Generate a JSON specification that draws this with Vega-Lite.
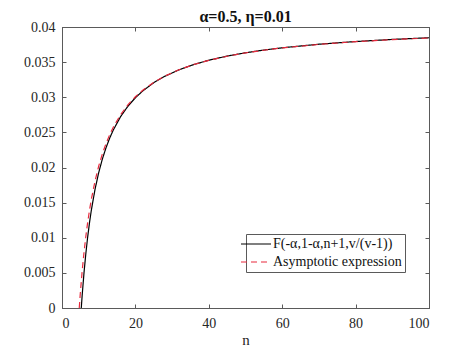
{
  "$schema": "https://vega.github.io/schema/vega-lite/v6.json",
  "autosize": {"type": "none"},
  "width": 367,
  "height": 281,
  "padding": {"left": 62, "top": 27, "right": 45, "bottom": 46},
  "background": "white",
  "config": {
    "font": "Liberation Serif",
    "view": {"stroke": "#5a5a5a", "strokeWidth": 1},
    "axis": {"grid": false, "domainColor": "#5a5a5a", "tickColor": "#5a5a5a", "labelColor": "#262626", "titleColor": "#262626", "labelFont": "Liberation Serif", "titleFont": "Liberation Serif", "labelFontSize": 14, "titleFontSize": 15, "titleFontWeight": "normal", "tickSize": -4}
  },
  "title": {"text": "α=0.5, η=0.01", "font": "Liberation Serif", "fontSize": 16, "fontWeight": "bold", "color": "#111", "anchor": "middle", "offset": -5},
  "data": {"values": [
    {"n": 5.25, "y": 0, "s": "F(-α,1-α,n+1,v/(v-1))"},
    {"n": 5.5, "y": 0.00182, "s": "F(-α,1-α,n+1,v/(v-1))"},
    {"n": 6, "y": 0.00505, "s": "F(-α,1-α,n+1,v/(v-1))"},
    {"n": 6.5, "y": 0.00778, "s": "F(-α,1-α,n+1,v/(v-1))"},
    {"n": 7, "y": 0.01013, "s": "F(-α,1-α,n+1,v/(v-1))"},
    {"n": 7.5, "y": 0.01216, "s": "F(-α,1-α,n+1,v/(v-1))"},
    {"n": 8, "y": 0.01394, "s": "F(-α,1-α,n+1,v/(v-1))"},
    {"n": 9, "y": 0.0169, "s": "F(-α,1-α,n+1,v/(v-1))"},
    {"n": 10, "y": 0.01927, "s": "F(-α,1-α,n+1,v/(v-1))"},
    {"n": 11, "y": 0.02121, "s": "F(-α,1-α,n+1,v/(v-1))"},
    {"n": 12, "y": 0.02282, "s": "F(-α,1-α,n+1,v/(v-1))"},
    {"n": 13, "y": 0.02419, "s": "F(-α,1-α,n+1,v/(v-1))"},
    {"n": 14, "y": 0.02536, "s": "F(-α,1-α,n+1,v/(v-1))"},
    {"n": 16, "y": 0.02727, "s": "F(-α,1-α,n+1,v/(v-1))"},
    {"n": 18, "y": 0.02875, "s": "F(-α,1-α,n+1,v/(v-1))"},
    {"n": 20, "y": 0.02993, "s": "F(-α,1-α,n+1,v/(v-1))"},
    {"n": 22, "y": 0.0309, "s": "F(-α,1-α,n+1,v/(v-1))"},
    {"n": 25, "y": 0.03207, "s": "F(-α,1-α,n+1,v/(v-1))"},
    {"n": 28, "y": 0.03298, "s": "F(-α,1-α,n+1,v/(v-1))"},
    {"n": 32, "y": 0.03393, "s": "F(-α,1-α,n+1,v/(v-1))"},
    {"n": 36, "y": 0.03467, "s": "F(-α,1-α,n+1,v/(v-1))"},
    {"n": 40, "y": 0.03527, "s": "F(-α,1-α,n+1,v/(v-1))"},
    {"n": 45, "y": 0.03586, "s": "F(-α,1-α,n+1,v/(v-1))"},
    {"n": 50, "y": 0.03633, "s": "F(-α,1-α,n+1,v/(v-1))"},
    {"n": 55, "y": 0.03672, "s": "F(-α,1-α,n+1,v/(v-1))"},
    {"n": 60, "y": 0.03704, "s": "F(-α,1-α,n+1,v/(v-1))"},
    {"n": 70, "y": 0.03755, "s": "F(-α,1-α,n+1,v/(v-1))"},
    {"n": 80, "y": 0.03793, "s": "F(-α,1-α,n+1,v/(v-1))"},
    {"n": 90, "y": 0.03823, "s": "F(-α,1-α,n+1,v/(v-1))"},
    {"n": 100, "y": 0.03847, "s": "F(-α,1-α,n+1,v/(v-1))"},
    {"n": 4.7, "y": 0, "s": "Asymptotic expression"},
    {"n": 5, "y": 0.00216, "s": "Asymptotic expression"},
    {"n": 5.5, "y": 0.00528, "s": "Asymptotic expression"},
    {"n": 6, "y": 0.00793, "s": "Asymptotic expression"},
    {"n": 6.5, "y": 0.01022, "s": "Asymptotic expression"},
    {"n": 7, "y": 0.0122, "s": "Asymptotic expression"},
    {"n": 7.5, "y": 0.01394, "s": "Asymptotic expression"},
    {"n": 8, "y": 0.01548, "s": "Asymptotic expression"},
    {"n": 9, "y": 0.01808, "s": "Asymptotic expression"},
    {"n": 10, "y": 0.0202, "s": "Asymptotic expression"},
    {"n": 11, "y": 0.02195, "s": "Asymptotic expression"},
    {"n": 12, "y": 0.02342, "s": "Asymptotic expression"},
    {"n": 13, "y": 0.02468, "s": "Asymptotic expression"},
    {"n": 14, "y": 0.02577, "s": "Asymptotic expression"},
    {"n": 16, "y": 0.02755, "s": "Asymptotic expression"},
    {"n": 18, "y": 0.02895, "s": "Asymptotic expression"},
    {"n": 20, "y": 0.03007, "s": "Asymptotic expression"},
    {"n": 22, "y": 0.031, "s": "Asymptotic expression"},
    {"n": 25, "y": 0.03213, "s": "Asymptotic expression"},
    {"n": 28, "y": 0.03301, "s": "Asymptotic expression"},
    {"n": 32, "y": 0.03394, "s": "Asymptotic expression"},
    {"n": 36, "y": 0.03467, "s": "Asymptotic expression"},
    {"n": 40, "y": 0.03525, "s": "Asymptotic expression"},
    {"n": 45, "y": 0.03584, "s": "Asymptotic expression"},
    {"n": 50, "y": 0.03631, "s": "Asymptotic expression"},
    {"n": 55, "y": 0.03669, "s": "Asymptotic expression"},
    {"n": 60, "y": 0.03702, "s": "Asymptotic expression"},
    {"n": 70, "y": 0.03752, "s": "Asymptotic expression"},
    {"n": 80, "y": 0.03791, "s": "Asymptotic expression"},
    {"n": 90, "y": 0.0382, "s": "Asymptotic expression"},
    {"n": 100, "y": 0.03844, "s": "Asymptotic expression"}
  ]},
  "layer": [
    {
      "mark": {"type": "line", "strokeWidth": 1.2, "clip": true},
      "encoding": {
        "x": {"field": "n", "type": "quantitative", "scale": {"domain": [0, 100], "nice": false}, "axis": {"orient": "bottom", "values": [0, 20, 40, 60, 80, 100], "title": "n", "labelPadding": 12, "titlePadding": 2}},
        "y": {"field": "y", "type": "quantitative", "scale": {"domain": [0, 0.04], "nice": false}, "axis": {"orient": "left", "values": [0, 0.005, 0.01, 0.015, 0.02, 0.025, 0.03, 0.035, 0.04], "format": ".3~f", "title": null, "labelPadding": 11}},
        "color": {"field": "s", "type": "nominal", "scale": {"domain": ["F(-α,1-α,n+1,v/(v-1))", "Asymptotic expression"], "range": ["#000000", "#e8283c"]},
          "legend": {"title": null, "orient": "none", "legendX": 184, "legendY": 207, "fillColor": "white", "strokeColor": "#5a5a5a", "padding": 3, "labelFont": "Liberation Serif", "labelFontSize": 14, "labelColor": "#111", "symbolType": "M-2.5,0H2.5", "symbolSize": 144, "symbolStrokeWidth": 1.2, "labelOffset": 10, "rowPadding": 4, "offset": 0}},
        "strokeDash": {"field": "s", "type": "nominal", "scale": {"domain": ["F(-α,1-α,n+1,v/(v-1))", "Asymptotic expression"], "range": [[1, 0], [6, 4]]}, "legend": null}
      }
    },
    {
      "mark": {"type": "line", "opacity": 0},
      "encoding": {
        "x": {"field": "n", "type": "quantitative", "scale": {"domain": [0, 100], "nice": false}, "axis": {"orient": "top", "values": [0, 20, 40, 60, 80, 100], "labels": false, "title": null}},
        "y": {"field": "y", "type": "quantitative", "scale": {"domain": [0, 0.04], "nice": false}, "axis": {"orient": "right", "values": [0, 0.005, 0.01, 0.015, 0.02, 0.025, 0.03, 0.035, 0.04], "labels": false, "title": null}},
        "detail": {"field": "s"}
      }
    }
  ],
  "resolve": {"axis": {"x": "independent", "y": "independent"}}
}
